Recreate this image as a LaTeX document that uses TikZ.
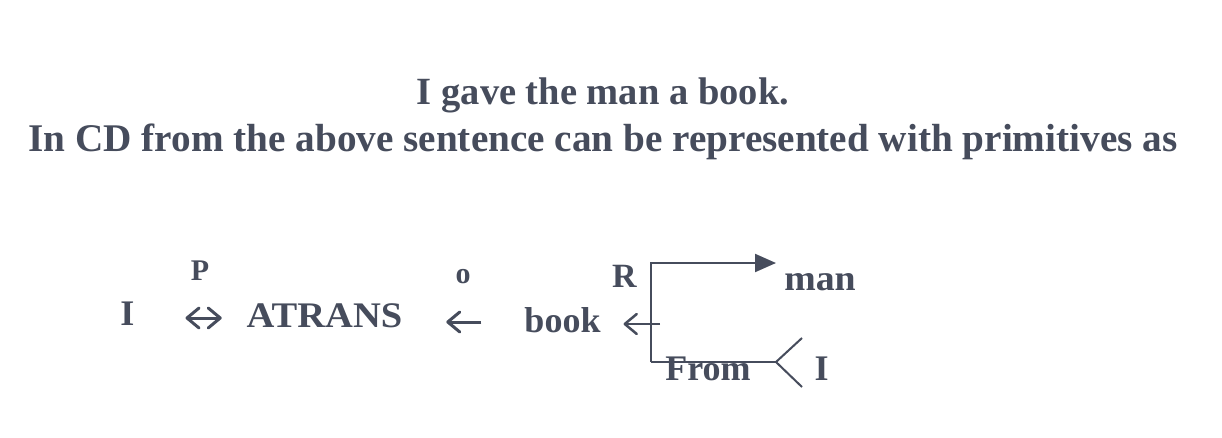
\documentclass[tikz,border=0pt]{standalone}
\usepackage{fontspec}
\setmainfont{Liberation Serif}
\usetikzlibrary{arrows.meta}
\begin{document}
\begin{tikzpicture}[x=1pt,y=-1pt,
  head/.style={text=drawColor,anchor=base,inner sep=0pt,outer sep=0pt,font=\bfseries\fontsize{38.5}{42}\selectfont},
  word/.style={text=drawColor,anchor=base,inner sep=0pt,outer sep=0pt,font=\bfseries\fontsize{36}{40}\selectfont},
  tag/.style={text=drawColor,anchor=base,inner sep=0pt,outer sep=0pt,font=\bfseries\fontsize{30}{33}\selectfont},
  barb/.tip={Straight Barb[length=12pt,width=20pt,line cap=round,line join=round]},
  link/.style={draw=drawColor,line width=3pt,arrows={-barb}},
  rail/.style={draw=drawColor,line width=2pt,line join=miter}]
\definecolor{fillColor}{RGB}{255,255,255}
\definecolor{drawColor}{RGB}{70,76,92}
\path[use as bounding box,fill=fillColor] (0,0) rectangle (1222,438);

% heading
\node[head] (sentence) at (603,105) {I gave the man a book.};
\node[head,font=\bfseries\fontsize{39.2}{42}\selectfont] (caption) at (603,152) {In CD from the above sentence can be represented with primitives as};

% conceptual dependency
\node[word] (actor) at (127.5,325) {I};
\node[tag] (ptag) at (200,280) {P};
\node[word,xscale=1.07] (act) at (324.5,327) {ATRANS};
\node[tag] (otag) at (463,283) {o};
\node[word] (object) at (562.5,332) {book};
\node[tag,font=\bfseries\fontsize{34}{38}\selectfont] (rtag) at (624.5,287) {R};
\node[word,xscale=1.05] (recip) at (820,290) {man};
\node[word] (from) at (708,380) {From};
\node[word] (donor) at (821.5,380) {I};

\path[link,arrows={barb-barb},shorten <=51pt,shorten >=25pt]
  (actor.east |- 0,318) -- (act.west |- 0,318);
\path[link,shorten <=43pt,shorten >=44pt] (object.west |- 0,322) -- (act.east |- 0,322);

% recipient bracket
\coordinate (top) at (651,263);
\coordinate (bot) at (651,362);
\coordinate (tip) at (776,263);
\coordinate (fork) at (776,362);
\coordinate (tail) at (660,324);
\path[rail,arrows={-Triangle[length=21pt,width=18pt]}] (bot) -- (top) -- (tip);
\path[rail] (bot) -- (fork);
\path[rail] (802,338) -- (fork) -- (802,387);
\path[link,line width=2.5pt,shorten >=23pt] (tail) -- (tail -| object.east);
\end{tikzpicture}
\end{document}
